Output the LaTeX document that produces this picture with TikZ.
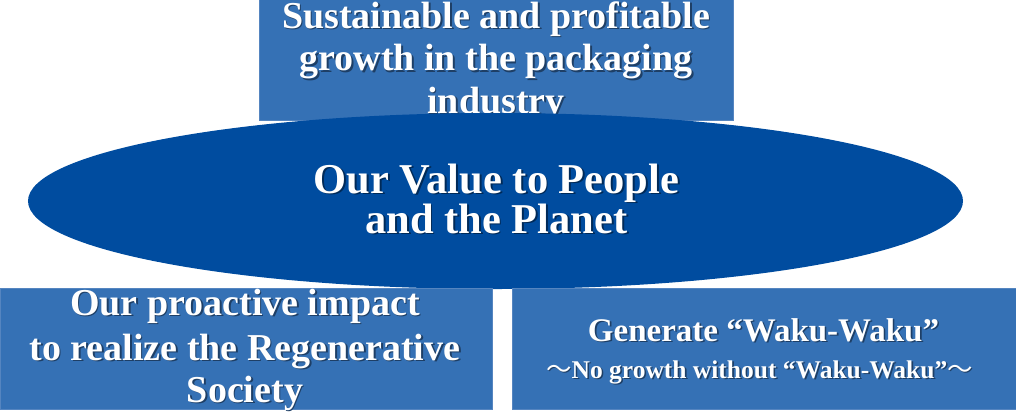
\documentclass[tikz,border=0pt]{standalone}
\usepackage{fontspec}
\setmainfont{Liberation Serif}
\newfontfamily\cjk{Noto Sans CJK JP}
\usetikzlibrary{shapes.geometric}
\definecolor{boxc}{HTML}{3571B5}
\definecolor{boxline}{HTML}{5585C0}
\definecolor{ellc}{HTML}{004C9F}
\definecolor{shbox}{HTML}{1E3F66}
\definecolor{shell}{HTML}{002A58}
\newcommand\shd[2]{\rlap{\kern1.6bp\raisebox{-1.6bp}{\textcolor{#1}{#2}}}#2}
\newcommand\wavy{{\cjk\mdseries ～}}
\begin{document}
\begin{tikzpicture}[x=1bp,y=-1bp,
  box/.style={rectangle, draw=boxline, line width=1bp, fill=boxc, inner sep=0pt},
  ell/.style={ellipse, fill=ellc, draw=none, inner sep=0pt},
  txt/.style={text=white, inner sep=0pt, anchor=base},
  fbig/.style={font=\fontsize{38bp}{44bp}\selectfont\bfseries},
  fell/.style={font=\fontsize{42.5bp}{44bp}\selectfont\bfseries},
  fmid/.style={font=\fontsize{33bp}{38bp}\selectfont\bfseries},
  fsmall/.style={font=\fontsize{25.5bp}{28bp}\selectfont\bfseries}]
\useasboundingbox (0,0) rectangle (1016,417);
% top box
\node[box, minimum width=474bp, minimum height=122bp] (topbox) at (496,59) {};
\node[txt, fbig] (t1) at (496,28) {\shd{shbox}{Sustainable and profitable}};
\node[txt, fbig] (t2) at (496,70.5) {\shd{shbox}{growth in the packaging}};
\node[txt, fbig] (t3) at (496,113) {\shd{shbox}{industry}};
% ellipse
\node[ell, minimum width=935bp, minimum height=176bp] (center) at (495.5,201) {};
\node[txt, fell] (e1) at (496.5,193) {\shd{shell}{Our Value to People}};
\node[txt, fell] (e2) at (496.5,233) {\shd{shell}{and the Planet}};
% bottom-left box
\node[box, minimum width=492bp, minimum height=121bp] (leftbox) at (246.5,348.5) {};
\node[txt, fbig] (l1) at (245,315) {\shd{shbox}{Our proactive impact}};
\node[txt, fbig] (l2) at (245,360) {\shd{shbox}{to realize the Regenerative}};
\node[txt, fbig] (l3) at (245,402) {\shd{shbox}{Society}};
% bottom-right box
\node[box, minimum width=505bp, minimum height=121bp] (rightbox) at (764.5,348.5) {};
\node[txt, fmid] (r1) at (763.5,341) {\shd{shbox}{Generate “Waku-Waku”}};
\node[txt, fsmall] (r2) at (759.5,378) {\shd{shbox}{\wavy No growth without “Waku-Waku”\wavy}};
\end{tikzpicture}
\end{document}
